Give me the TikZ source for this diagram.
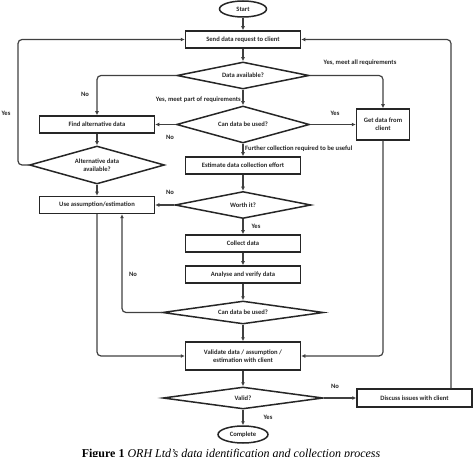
\documentclass[tikz,border=0pt]{standalone}
\usepackage{fontspec}
\setmainfont{Liberation Serif}
\newfontfamily\boxfont{Carlito}
\usetikzlibrary{shapes.geometric}
\usetikzlibrary{arrows.meta}

\begin{document}
\begin{tikzpicture}[x=1pt, y=-1pt,
  every node/.style={font=\boxfont\bfseries\fontsize{6.6}{7.6}\selectfont, text=black!85},
  box/.style={draw=black!85, line width=1.5pt, minimum width=115pt, minimum height=17pt, inner sep=1pt, align=center},
  decision/.style={diamond, draw=black!85, line width=1.5pt, aspect=5, inner sep=0pt, align=center},
  term/.style={ellipse, draw=black!85, line width=1.5pt, minimum width=47pt, minimum height=16pt, inner sep=0pt},
  flow/.style={draw=black!75, line width=1.2pt, -{Latex[length=4pt,width=4pt]}, rounded corners=4pt},
  lbl/.style={inner sep=0pt}]
  \useasboundingbox (0,0) rectangle (474,457);

  \node[term] (start) at (243,9) {Start};
  \node[box] (request) at (243,39.5) {Send data request to client};
  \node[decision, minimum width=132pt, minimum height=27pt] (avail) at (243,75.5) {Data available?};
  \node[decision, minimum width=133pt, minimum height=37pt] (usable) at (243,124.5) {Can data be used?};
  \node[box] (findalt) at (97,124.5) {Find alternative data};
  \node[box, minimum width=53pt, minimum height=31pt] (getdata) at (383,124.5) {Get data from\\client};
  \node[decision, minimum width=135pt, minimum height=38pt] (altavail) at (97,165) {Alternative data\\available?};
  \node[box] (estimate) at (243,165.5) {Estimate data collection effort};
  \node[decision, minimum width=136pt, minimum height=27pt] (worth) at (243,205) {Worth it?};
  \node[box] (assume) at (97,205) {Use assumption/estimation};
  \node[box] (collect) at (243,243.5) {Collect data};
  \node[box] (analyse) at (243,274.5) {Analyse and verify data};
  \node[decision, minimum width=161pt, minimum height=23pt] (usable2) at (243,312.5) {Can data be used?};
  \node[box, minimum height=28pt] (validate) at (243,356) {Validate data / assumption /\\estimation with client};
  \node[decision, minimum width=160pt, minimum height=22pt] (valid) at (243,398) {Valid?};
  \node[box, minimum height=18pt] (discuss) at (414.5,398) {Discuss issues with client};
  \node[term, minimum width=50pt, minimum height=17pt] (complete) at (243,434.5) {Complete};

  \coordinate (yesloop) at (18,39.5);
  \coordinate (back) at (451,39.5);

  \draw[flow] (start) -- (request);
  \draw[flow] (request) -- (avail);
  \draw[flow] (avail.west) -| (findalt.north);
  \draw[flow] (avail.east) -| (getdata.north);
  \draw[flow] (avail.south) -- (usable.north);
  \draw[flow] (usable.west) -- (findalt.east);
  \draw[flow] (usable.east) -- (getdata.west);
  \draw[flow] (usable.south) -- (estimate.north);
  \draw[flow] (findalt) -- (altavail);
  \draw[flow] (altavail) -- (assume);
  \draw[flow] (altavail.west) -| (yesloop) -- (request.west);
  \draw[flow] (estimate) -- (worth);
  \draw[flow] (worth.west) -- (assume.east);
  \draw[flow] (worth) -- (collect);
  \draw[flow] (collect) -- (analyse);
  \draw[flow] (analyse) -- (usable2);
  \draw[flow] (usable2.west) -| ([xshift=25pt]assume.south);
  \draw[flow] (usable2) -- (validate);
  \draw[flow] (assume.south) |- (validate.west);
  \draw[flow] (getdata.south) |- (validate.east);
  \draw[flow] (validate) -- (valid);
  \draw[flow] (valid.east) -- (discuss.west);
  \draw[flow] (valid) -- (complete);
  \draw[flow] (discuss.north -| back) -- (back) -- (request.east);

  \node[lbl] at (85,94) {No};
  \node[lbl] at (360,63) {Yes, meet all requirements};
  \node[lbl, anchor=east] at (241,100) {Yes, meet part of requirements};
  \node[lbl] at (6,113) {Yes};
  \node[lbl] at (335,113) {Yes};
  \node[lbl] at (170,137) {No};
  \node[lbl, anchor=west] at (245,149) {Further collection required to be useful};
  \node[lbl] at (170,192) {No};
  \node[lbl] at (256,226) {Yes};
  \node[lbl] at (133,274) {No};
  \node[lbl] at (335,386) {No};
  \node[lbl] at (268,417) {Yes};

  \node[font=\rmfamily\fontsize{12}{14}\selectfont, text=black, anchor=base] (caption) at (231,457.5)
    {\textbf{Figure 1} \textit{ORH Ltd’s data identification and collection process}};
\end{tikzpicture}
\end{document}
